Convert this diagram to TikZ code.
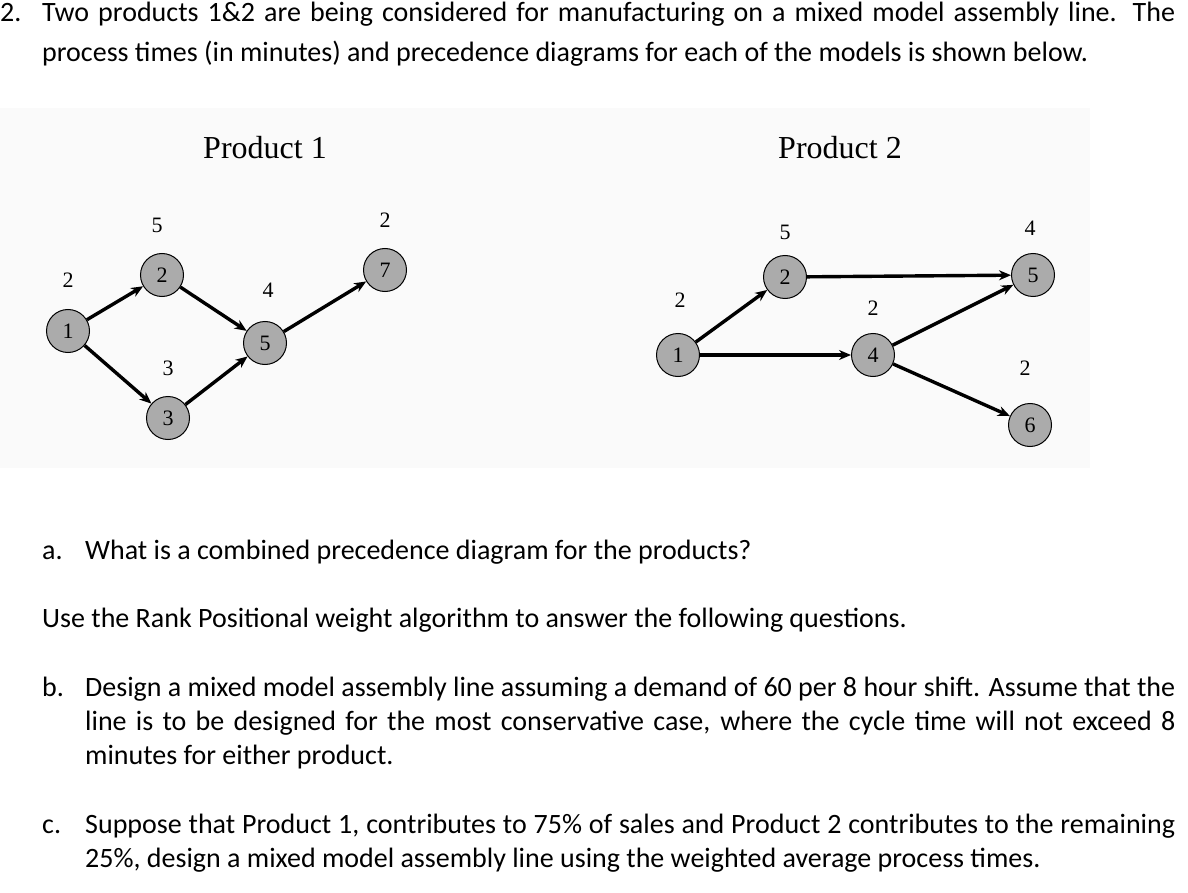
\documentclass[tikz,border=0pt]{standalone}
\usepackage{fontspec}
\setmainfont{Carlito}
\newfontfamily\tms{Liberation Serif}
\usetikzlibrary{arrows.meta}
\begin{document}
\begin{tikzpicture}[x=1pt,y=-1pt,
  nd/.style={circle,draw=black,line width=1pt,fill=black!33,minimum size=43pt,inner sep=0pt,font=\tms\fontsize{22}{22}\selectfont},
  wt/.style={font=\tms\fontsize{22}{22}\selectfont,inner sep=0pt},
  ttl/.style={font=\tms\fontsize{32}{32}\selectfont,inner sep=0pt},
  ar/.style={line width=3.4pt,-{Stealth[length=12pt,width=10pt]}},
  tx/.style={anchor=west,inner sep=0pt,text height=19pt,text depth=6pt,font=\fontsize{28}{28}\selectfont}]
\useasboundingbox (0,0) rectangle (1188,893);
\fill[white] (0,0) rectangle (1188,893);
\fill[black!2] (0,108) rectangle (1090,468);
% texts
\node[tx] (n1) at (0,15) {2.};
\node[tx] (l1) at (42,15) {\makebox[1133pt][s]{Two products 1\&2 are being considered for manufacturing on a mixed model assembly line.\hspace{16pt}The}};
\node[tx] (l2) at (42,55) {process times (in minutes) and precedence diagrams for each of the models is shown below.};
\node[tx] (na) at (42,553) {a.};
\node[tx] (la) at (85,553) {What is a combined precedence diagram for the products?};
\node[tx] (lu) at (42,621) {Use the Rank Positional weight algorithm to answer the following questions.};
\node[tx] (nb) at (42,690) {b.};
\node[tx] (lb1) at (85,690) {\makebox[1090pt][s]{Design a mixed model assembly line assuming a demand of 60 per 8 hour shift. Assume that the}};
\node[tx] (lb2) at (85,724) {\makebox[1090pt][s]{line is to be designed for the most conservative case, where the cycle time will not exceed 8}};
\node[tx] (lb3) at (85,758) {minutes for either product.};
\node[tx] (nc) at (42,827) {c.};
\node[tx] (lc1) at (85,827) {\makebox[1090pt][s]{Suppose that Product 1, contributes to 75\% of sales and Product 2 contributes to the remaining}};
\node[tx] (lc2) at (85,861) {25\%, design a mixed model assembly line using the weighted average process times.};
% product 1
\node[ttl] (t1) at (265,148) {Product 1};
\node[nd] (a1) at (68,331) {1};
\node[nd] (a2) at (162,275) {2};
\node[nd] (a3) at (168,418) {3};
\node[nd] (a5) at (265,343) {5};
\node[nd] (a7) at (385,270) {7};
\node[wt] (w1) at (68,280) {2};
\node[wt] (w2) at (157,225) {5};
\node[wt] (w3) at (168,368) {3};
\node[wt] (w5) at (268,290) {4};
\node[wt] (w7) at (385,220) {2};
\draw[ar] (a1) -- (a2);
\draw[ar] (a1) -- (a3);
\draw[ar] (a2) -- (a5);
\draw[ar] (a3) -- (a5);
\draw[ar] (a5) -- (a7);
% product 2
\node[ttl] (t2) at (840,148) {Product 2};
\node[nd] (b1) at (678,355) {1};
\node[nd] (b2) at (785,277) {2};
\node[nd] (b4) at (873,355) {4};
\node[nd] (b5) at (1033,275) {5};
\node[nd] (b6) at (1030,425) {6};
\node[wt] (v1) at (680,300) {2};
\node[wt] (v2) at (785,232) {5};
\node[wt] (v4) at (873,308) {2};
\node[wt] (v5) at (1030,228) {4};
\node[wt] (v6) at (1025,368) {2};
\draw[ar] (b1) -- (b2);
\draw[ar] (b1) -- (b4);
\draw[ar] (b2) -- (b5);
\draw[ar] (b4) -- (b5);
\draw[ar] (b4) -- (b6);
\end{tikzpicture}
\end{document}
